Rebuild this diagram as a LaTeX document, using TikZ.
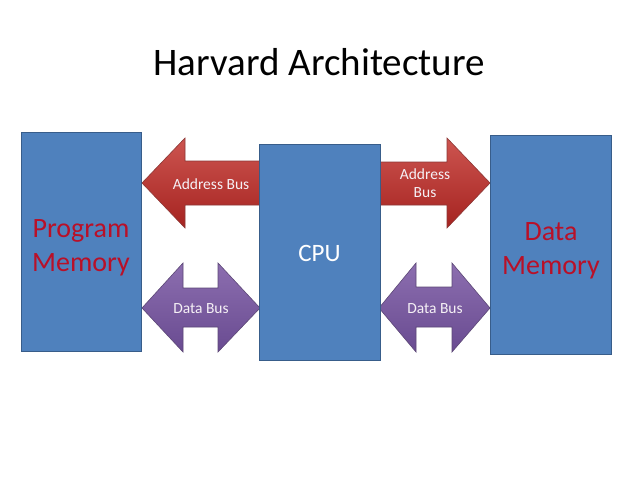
\documentclass[tikz,border=0pt]{standalone}
\usepackage{fontspec}
\setmainfont{Carlito}
\begin{document}
\begin{tikzpicture}[x=1pt,y=-1pt,
  membox/.style={draw={rgb,255:red,56;green,93;blue,138},line width=1pt,fill={rgb,255:red,79;green,129;blue,189}},
  redarrow/.style={draw={rgb,255:red,140;green,56;blue,54},line width=0.6pt,top color={rgb,255:red,205;green,85;blue,80},bottom color={rgb,255:red,165;green,35;blue,32}},
  purparrow/.style={draw={rgb,255:red,92;green,71;blue,118},line width=0.6pt,top color={rgb,255:red,140;green,110;blue,175},bottom color={rgb,255:red,105;green,75;blue,145}},
  memtext/.style={text={rgb,255:red,185;green,16;blue,40},font=\fontsize{28}{34}\selectfont,align=center},
  bustext/.style={text={rgb,255:red,245;green,240;blue,245},font=\fontsize{15.5}{18}\selectfont,align=center}]
\useasboundingbox (0,0) rectangle (638,479);
\fill[white] (0,0) rectangle (638,479);
\node (title) at (319,62) {\fontsize{39}{46}\selectfont Harvard Architecture};
% arrows (behind boxes)
\path[redarrow] (142,183) -- (185,138) -- (185,161) -- (260,161) -- (260,205) -- (185,205) -- (185,228) -- cycle;
\path[redarrow] (379,162) -- (447,162) -- (447,138) -- (490,183) -- (447,228) -- (447,205) -- (379,205) -- cycle;
\path[purparrow] (142,308) -- (183,263) -- (183,288) -- (218,288) -- (218,263) -- (260,308) -- (218,352) -- (218,327) -- (183,327) -- (183,352) -- cycle;
\path[purparrow] (379,308) -- (416,263) -- (416,287) -- (452,287) -- (452,263) -- (490,308) -- (452,352) -- (452,327) -- (416,327) -- (416,352) -- cycle;
% boxes
\node[membox,minimum width=120pt,minimum height=219pt,inner sep=0pt] (pm) at (81,241.5) {};
\node[membox,minimum width=121pt,minimum height=216pt,inner sep=0pt] (cpu) at (319.5,252) {};
\node[membox,minimum width=121pt,minimum height=219pt,inner sep=0pt] (dm) at (551,244.5) {};
\node[memtext] (pmt) at (81,247.5) {Program\\Memory};
\node[memtext] (dmt) at (551,251) {Data\\Memory};
\node[text=white,font=\fontsize{25}{30}\selectfont] (cput) at (319.5,253.5) {CPU};
\node[bustext] (ab1) at (211,184) {Address Bus};
\node[bustext] (ab2) at (425,183) {Address\\Bus};
\node[bustext] (db1) at (201,309) {Data Bus};
\node[bustext] (db2) at (435,309) {Data Bus};
\end{tikzpicture}
\end{document}
